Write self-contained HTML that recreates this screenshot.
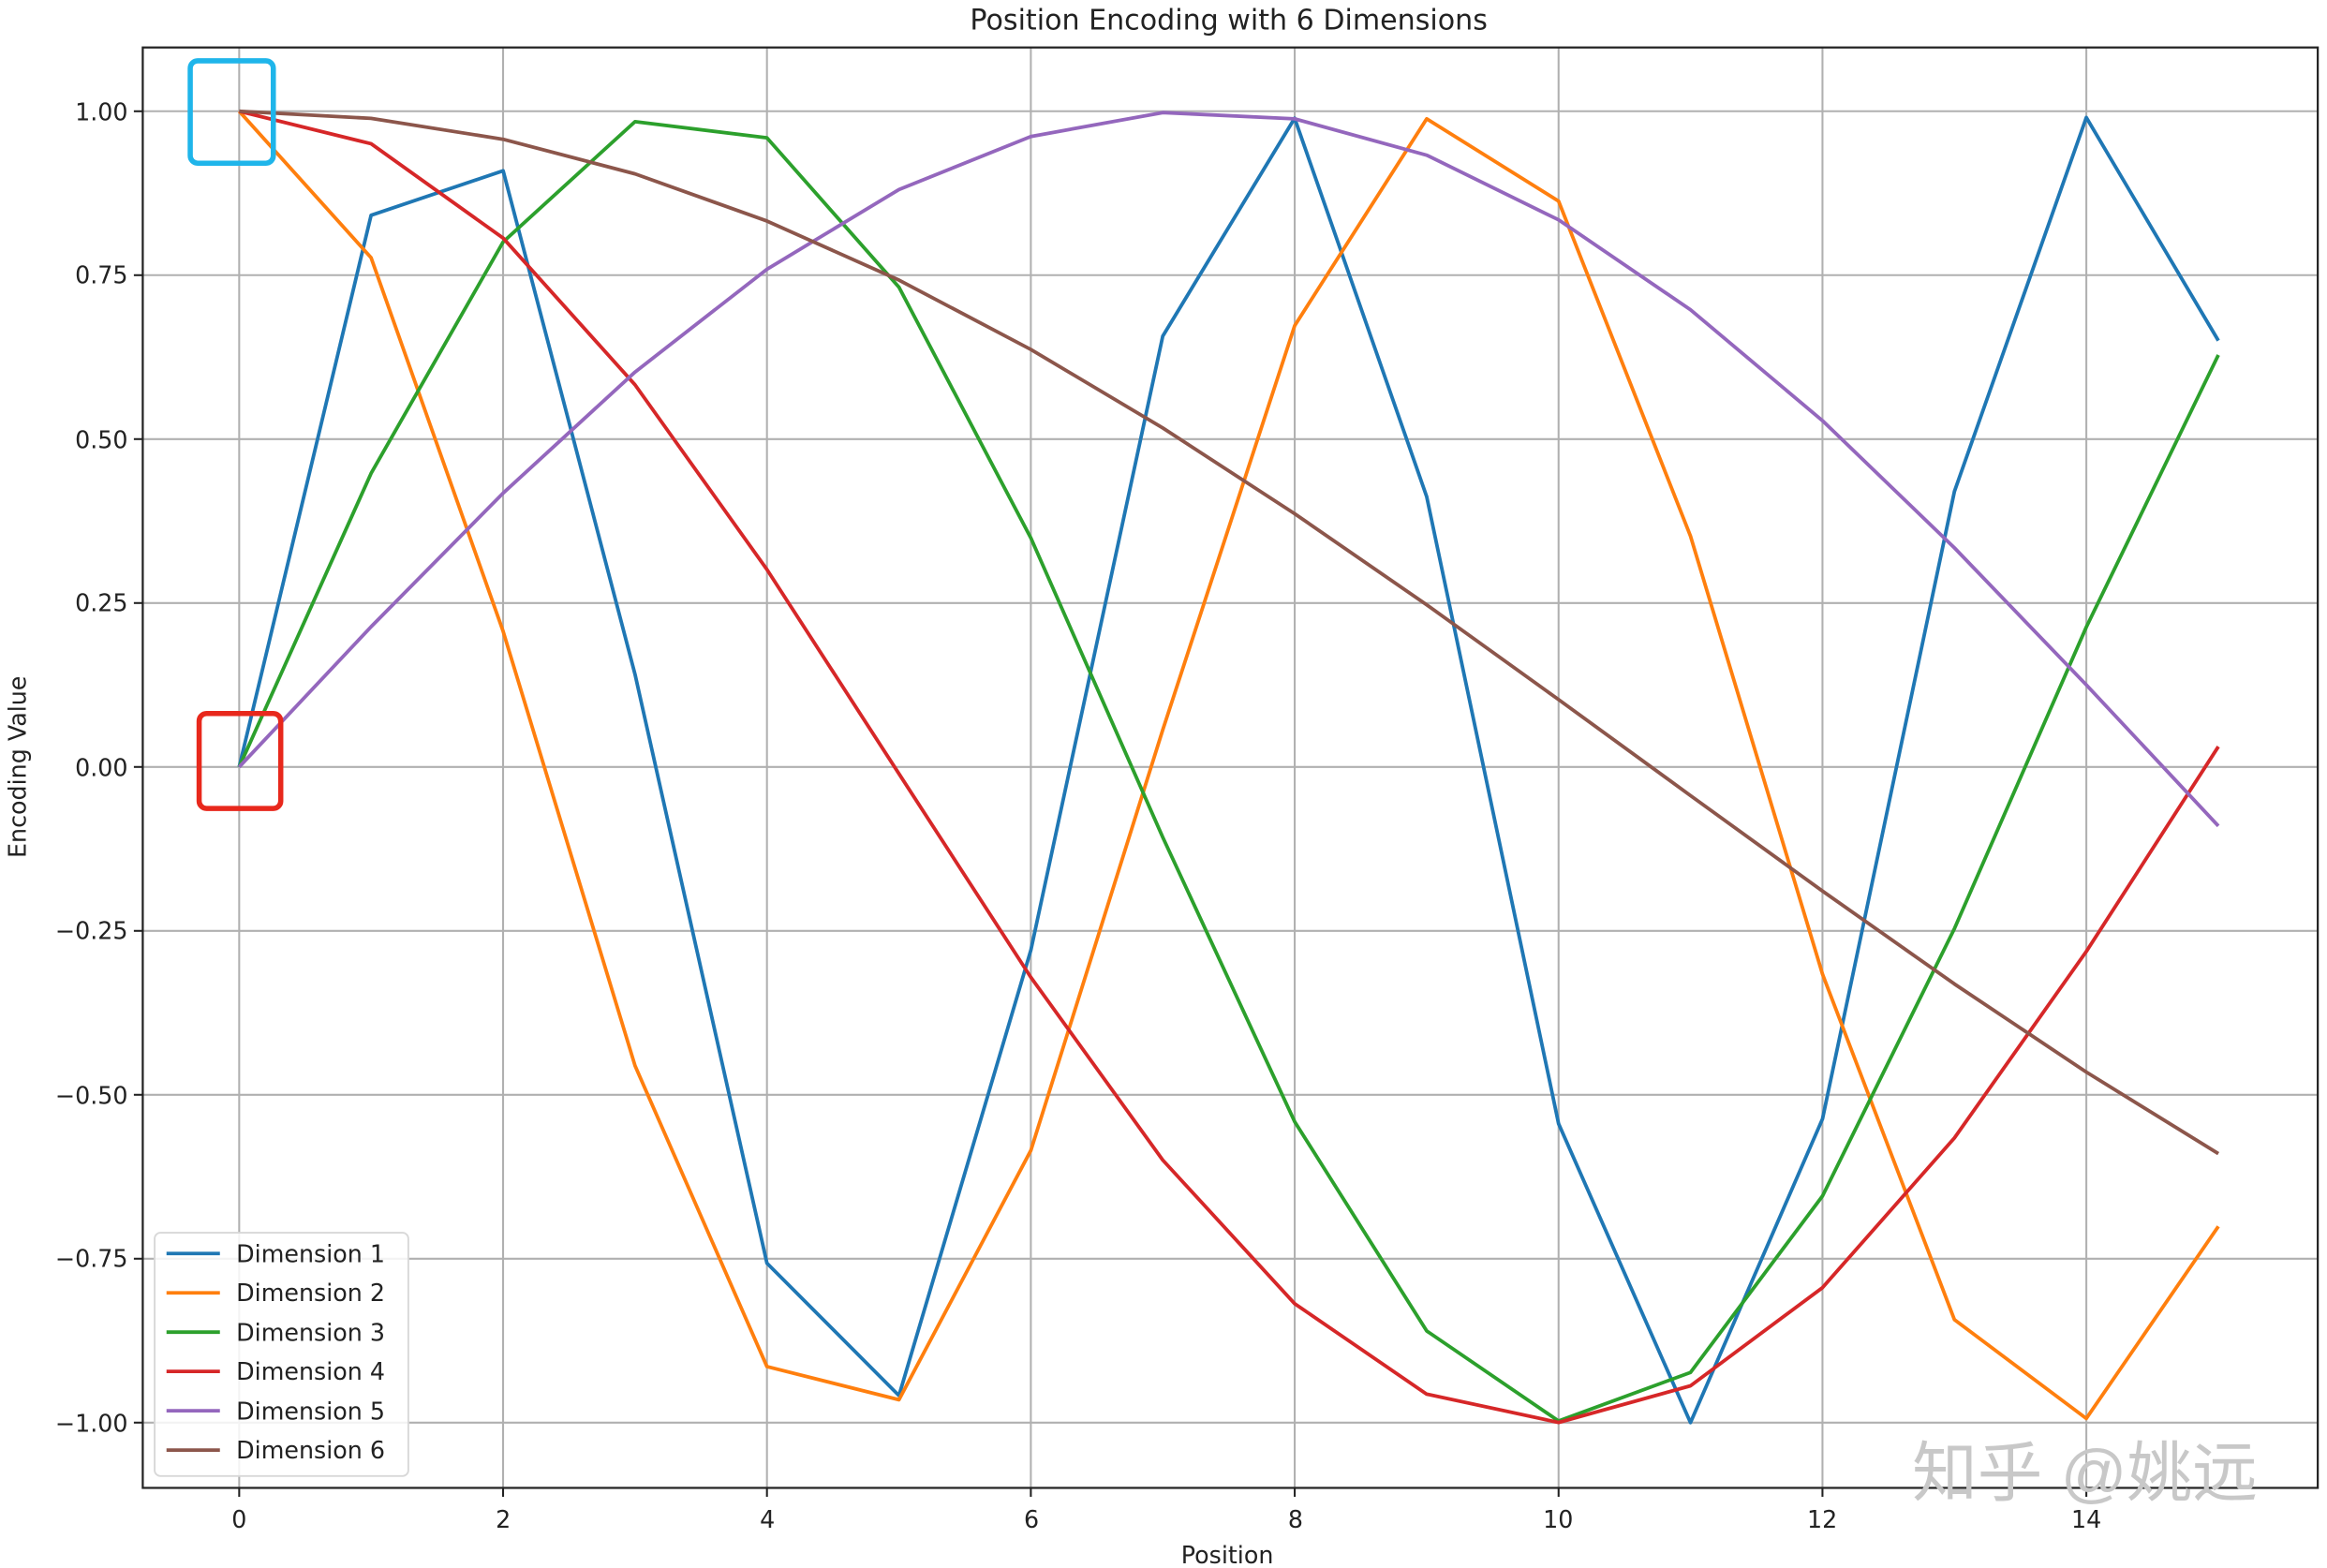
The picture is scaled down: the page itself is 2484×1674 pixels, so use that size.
<!DOCTYPE html>
<html><head><meta charset="utf-8"><style>
html,body{margin:0;padding:0;background:#fff}
svg{display:block}
text{font-family:"DejaVu Sans","Liberation Sans",sans-serif;fill:#222}
</style></head><body>
<svg id="s" width="2484" height="1674" viewBox="0 0 1568 1057" xmlns="http://www.w3.org/2000/svg">
<rect width="1568" height="1057" fill="#fff"/>
<g id="grid" stroke="#b0b0b0" stroke-width="1.3"></g>
<g id="lines" fill="none" stroke-width="2.4" stroke-linejoin="round"></g>
<rect x="96" y="32" width="1466" height="971" fill="none" stroke="#222" stroke-width="1.4"/>
<text x="828" y="20" font-size="19" text-anchor="middle">Position Encoding with 6 Dimensions</text>
<text x="827" y="1054" font-size="16" text-anchor="middle">Position</text>
<text transform="translate(17,517) rotate(-90)" font-size="16" text-anchor="middle">Encoding Value</text>
<g font-size="16" text-anchor="middle">
<text x="161" y="1030">0</text><text x="339" y="1030">2</text><text x="517" y="1030">4</text><text x="695" y="1030">6</text><text x="873" y="1030">8</text><text x="1050" y="1030">10</text><text x="1228" y="1030">12</text><text x="1406" y="1030">14</text>
</g>
<g font-size="16" text-anchor="end">
<text x="86" y="81">1.00</text><text x="86" y="191">0.75</text><text x="86" y="302">0.50</text><text x="86" y="412">0.25</text><text x="86" y="523">0.00</text><text x="86" y="633">−0.25</text><text x="86" y="744">−0.50</text><text x="86" y="854">−0.75</text><text x="86" y="965">−1.00</text>
</g>
<g id="ticks" stroke="#222" stroke-width="1.3"></g>
<rect x="104" y="831" width="171" height="164" rx="4" fill="#fff" fill-opacity="0.85" stroke="#d8d8d8" stroke-width="1.2"/>
<g id="leg" stroke-width="2.4"></g>
<g font-size="16">
<text x="159" y="851">Dimension 1</text><text x="159" y="877">Dimension 2</text><text x="159" y="904">Dimension 3</text><text x="159" y="930">Dimension 4</text><text x="159" y="957">Dimension 5</text><text x="159" y="983">Dimension 6</text>
</g>
<rect x="128" y="41" width="56" height="69" rx="5" fill="none" stroke="#1fb5ea" stroke-width="3.5"/>
<rect x="134" y="481" width="55" height="64" rx="5" fill="none" stroke="#e8281c" stroke-width="3.5"/>
<text x="1405" y="1008" font-size="44" text-anchor="middle" style="fill:#c8c8c8;font-family:'Liberation Sans','Noto Sans CJK SC',sans-serif">知乎 @姚远</text>
</svg>
<script>
var X=function(p){return 161+p*88.93},Y=function(v){return 517-v*442};
var ns="http://www.w3.org/2000/svg";
function el(g,t,a){var e=document.createElementNS(ns,t);for(var k in a)e.setAttribute(k,a[k]);document.getElementById(g).appendChild(e);}
for(var p=0;p<=14;p+=2){el("grid","line",{x1:X(p),x2:X(p),y1:32,y2:1003});el("ticks","line",{x1:X(p),x2:X(p),y1:1003,y2:1009});}
for(var v=-1;v<=1.001;v+=0.25){el("grid","line",{x1:96,x2:1562,y1:Y(v),y2:Y(v)});el("ticks","line",{x1:90,x2:96,y1:Y(v),y2:Y(v)});}
var cols=["#1f77b4","#ff7f0e","#2ca02c","#d62728","#9467bd","#8c564b"];
for(var k=0;k<6;k++){var d=Math.pow(10000,k/24),pts=[];
for(var p=0;p<=15;p++){var a=p/d,v=(k%2==0)?Math.sin(a):Math.cos(a);pts.push(X(p).toFixed(1)+","+Y(v).toFixed(1));}
el("lines","polyline",{points:pts.join(" "),stroke:cols[k]});
el("leg","line",{x1:112,x2:148,y1:845+k*26.5,y2:845+k*26.5,stroke:cols[k]});}
</script>
</body></html>
